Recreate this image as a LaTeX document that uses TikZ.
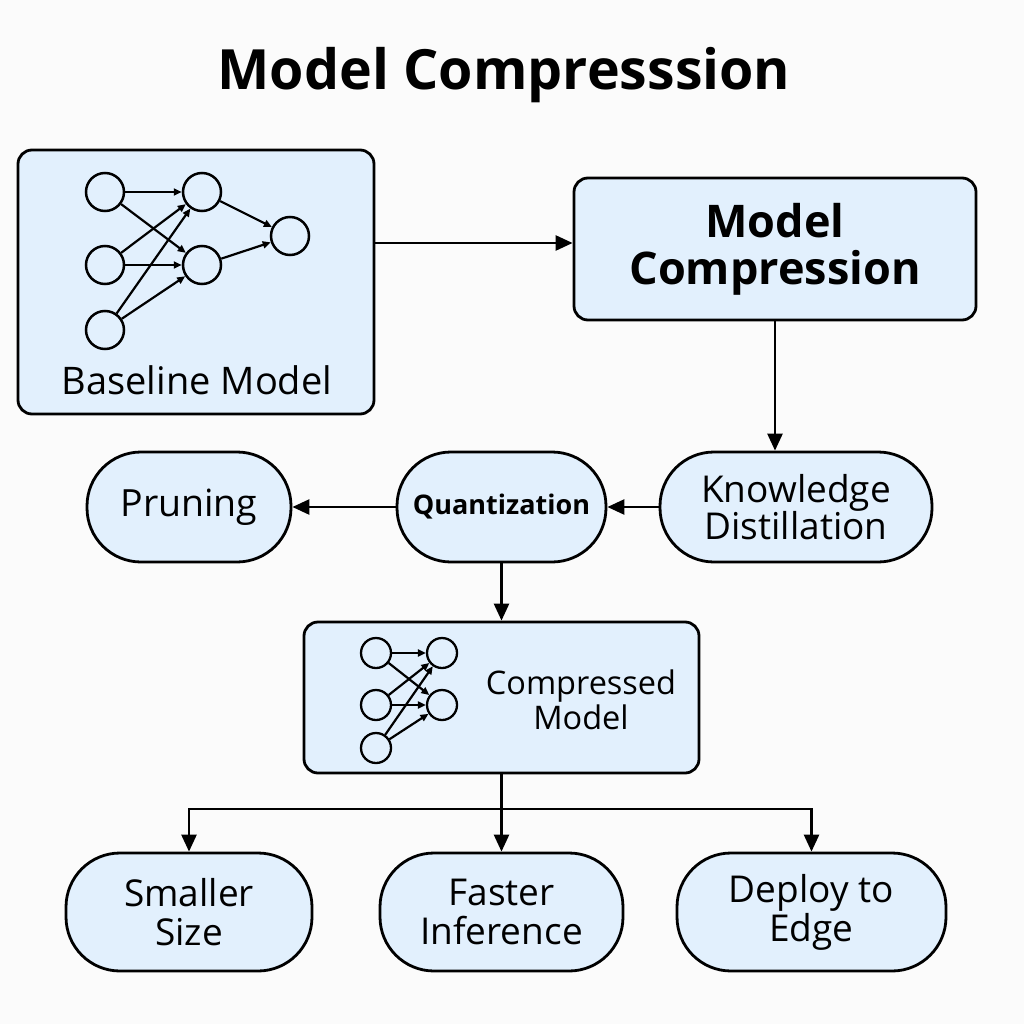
\documentclass[tikz,border=0pt]{standalone}
\usepackage{fontspec}
\setmainfont{Open Sans}
\usetikzlibrary{arrows.meta}
\definecolor{bgc}{RGB}{251,251,251}
\definecolor{fillb}{RGB}{226,240,253}
\begin{document}
\begin{tikzpicture}[x=1pt,y=-1pt,
  box/.style={draw=black, line width=2.8pt, fill=fillb, rounded corners=14pt, inner sep=0pt, align=center},
  pill/.style={draw=black, line width=2.8pt, fill=fillb, rounded corners=54pt, inner sep=0pt, align=center},
  arr/.style={line width=2.6pt, -{Triangle[length=17pt,width=15pt]}},
  plain/.style={line width=2.6pt},
  neuron/.style={circle, draw=black, line width=2.5pt, inner sep=0pt, minimum size=38pt},
  sneuron/.style={circle, draw=black, line width=2.3pt, inner sep=0pt, minimum size=30pt},
  link/.style={line width=2.2pt, -{Triangle[length=8pt,width=7pt]}},
  txt/.style={align=center, inner sep=0pt},
]
\fill[bgc] (0,0) rectangle (1024,1024);
\useasboundingbox (0,0) rectangle (1024,1024);

% title
\node[txt, font=\bfseries\fontsize{55.5}{60}\selectfont] (title) at (504,75) {Model Compresssion};

% boxes
\node[box, minimum width=356pt, minimum height=264pt] (base) at (196,282) {};
\node[txt, font=\fontsize{38}{40}\selectfont] (baselbl) at (197,380) {Baseline Model};
\node[box, minimum width=402pt, minimum height=142pt, font=\bfseries\fontsize{45}{47}\selectfont] (mc) at (775,249) {Model\\Compression};
\node[pill, minimum width=204pt, minimum height=110pt, font=\fontsize{37.5}{40}\selectfont] (prun) at (189,507) {Pruning};
\node[pill, minimum width=209pt, minimum height=110pt, font=\bfseries\fontsize{27}{32}\selectfont] (quant) at (501.5,507) {Quantization};
\node[pill, minimum width=272pt, minimum height=110pt, font=\fontsize{37}{37}\selectfont] (kd) at (796,507) {Knowledge\\Distillation};
\node[box, minimum width=395pt, minimum height=151pt] (cm) at (501.5,697.5) {};
\node[txt, font=\fontsize{32.5}{35}\selectfont] (cmlbl) at (581,700) {Compressed\\Model};
\node[pill, minimum width=246pt, minimum height=118pt, font=\fontsize{37}{39}\selectfont] (s1) at (189,912) {Smaller\\Size};
\node[pill, minimum width=243pt, minimum height=118pt, font=\fontsize{37}{39}\selectfont] (s2) at (501.5,912) {Faster\\Inference};
\node[pill, minimum width=269pt, minimum height=118pt, font=\fontsize{37}{39}\selectfont] (s3) at (811.5,912) {Deploy to\\Edge};

% baseline network
\node[neuron] (i1) at (105,192) {};
\node[neuron] (i2) at (105,265) {};
\node[neuron] (i3) at (105,330) {};
\node[neuron] (h1) at (202,192) {};
\node[neuron] (h2) at (202,265) {};
\node[neuron] (o1) at (290,236) {};
\foreach \a in {i1,i2,i3}{\foreach \b in {h1,h2}{\draw[link] (\a) -- (\b);}}
\draw[link] (h1) -- (o1);
\draw[link] (h2) -- (o1);

% compressed network
\node[sneuron] (c1) at (376,653) {};
\node[sneuron] (c2) at (376,705) {};
\node[sneuron] (c3) at (376,748) {};
\node[sneuron] (d1) at (442,653) {};
\node[sneuron] (d2) at (442,705) {};
\foreach \a in {c1,c2,c3}{\foreach \b in {d1,d2}{\draw[link] (\a) -- (\b);}}

% connectors
\draw[arr] (base.east |- 0,243) -- (mc.west |- 0,243);
\draw[arr] (mc.south) -- (mc.south |- kd.north);
\draw[arr] (kd.west) -- (quant.east);
\draw[arr] (quant.west) -- (prun.east);
\draw[arr] (quant.south) -- (quant.south |- cm.north);
\coordinate (br) at (501.5,809);
\draw[plain] (cm.south) -- (br);
\draw[arr] (br) -| (s1.north);
\draw[arr] (br) -- (s2.north);
\draw[arr] (br) -| (s3.north);
\end{tikzpicture}
\end{document}
